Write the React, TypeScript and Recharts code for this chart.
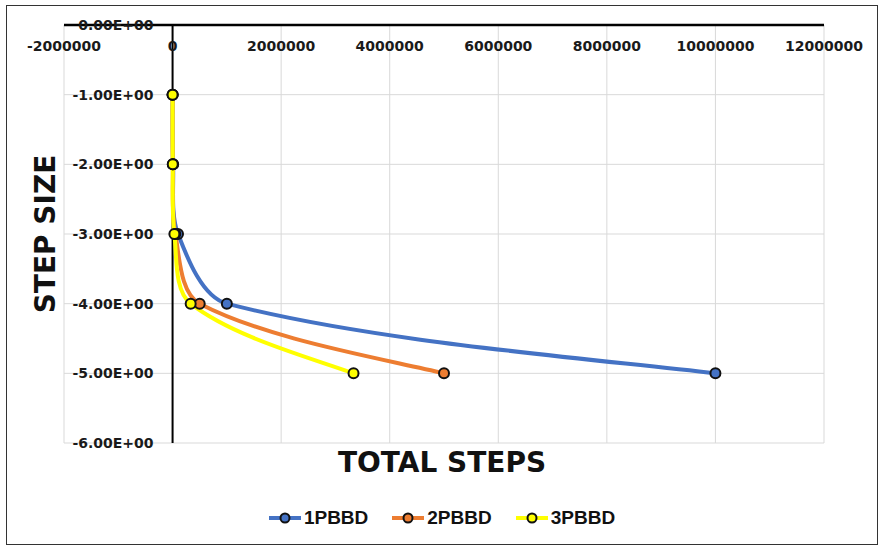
import React from 'react';
import { LineChart, Line, XAxis, YAxis, CartesianGrid, ReferenceLine } from 'recharts';

const STEP_SIZES = [-1, -2, -3, -4, -5];
const STEPS_1PBBD = [1000, 10000, 100000, 1000000, 10000000];
const STEPS_2PBBD = [500, 5000, 50000, 500000, 5000000];
const STEPS_3PBBD = [333, 3333, 33333, 333333, 3333333];

const X_TICKS = [-2000000, 0, 2000000, 4000000, 6000000, 8000000, 10000000, 12000000];
const Y_TICKS = [0, -1, -2, -3, -4, -5, -6];

const SERIES = [
  { name: '1PBBD', steps: STEPS_1PBBD, color: '#4472C4' },
  { name: '2PBBD', steps: STEPS_2PBBD, color: '#ED7D31' },
  { name: '3PBBD', steps: STEPS_3PBBD, color: '#FFFF00' },
];

const toRows = (steps: number[]) => steps.map((x, i) => ({ x, y: STEP_SIZES[i] }));

const W = 884;
const H = 549;
const MARGIN = { top: 24, right: 60, bottom: 106, left: 63 };
const PLOT_LEFT = 64;
const PLOT_W = 760;
// y labels sit just left of the x=0 axis line
const ZERO_PX = PLOT_LEFT + PLOT_W * (2 / 14);
const Y_LABEL_X = ZERO_PX - 19;

// Excel-like smoothed line: cubic bezier, unit tangents, arms = segment length * K
const K = 0.3;
const END_BEND = 0.25;
const unit = (v: number[]) => {
  const l = Math.hypot(v[0], v[1]);
  return l > 0 ? [v[0] / l, v[1] / l] : [0, 0];
};
const excelSmooth = (context: any) => {
  let pts: number[][] = [];
  return {
    areaStart() {},
    areaEnd() {},
    lineStart() { pts = []; },
    point(x: number, y: number) { pts.push([+x, +y]); },
    lineEnd() {
      const n = pts.length;
      if (!n) return;
      context.moveTo(pts[0][0], pts[0][1]);
      if (n === 1) return;
      const chords = [];
      for (let i = 0; i < n - 1; i++) chords.push(unit([pts[i + 1][0] - pts[i][0], pts[i + 1][1] - pts[i][1]]));
      const tans: number[][] = [];
      for (let i = 0; i < n; i++) {
        if (i > 0 && i < n - 1) {
          tans.push(unit([pts[i + 1][0] - pts[i - 1][0], pts[i + 1][1] - pts[i - 1][1]]));
        } else {
          tans.push([0, 0]);
        }
      }
      // end tangents bend slightly past the chord, away from the inner tangent
      if (n > 2) {
        const c0 = chords[0];
        tans[0] = unit([(1 + END_BEND) * c0[0] - END_BEND * tans[1][0], (1 + END_BEND) * c0[1] - END_BEND * tans[1][1]]);
        const cl = chords[n - 2];
        tans[n - 1] = unit([(1 + END_BEND) * cl[0] - END_BEND * tans[n - 2][0], (1 + END_BEND) * cl[1] - END_BEND * tans[n - 2][1]]);
      } else {
        tans[0] = chords[0];
        tans[1] = chords[0];
      }
      for (let i = 0; i < n - 1; i++) {
        const p1 = pts[i];
        const p2 = pts[i + 1];
        const arm = Math.hypot(p2[0] - p1[0], p2[1] - p1[1]) * K;
        context.bezierCurveTo(
          p1[0] + tans[i][0] * arm, p1[1] + tans[i][1] * arm,
          p2[0] - tans[i + 1][0] * arm, p2[1] - tans[i + 1][1] * arm,
          p2[0], p2[1],
        );
      }
    },
  };
};

const tickFont = { fontFamily: '"DejaVu Sans", sans-serif', fontWeight: 700, fontSize: 14, fill: '#1a1a1a' };

const XTick = (props: any) => (
  <text x={props.x} y={props.y + 26} textAnchor="middle" style={tickFont}>
    {props.payload.value}
  </text>
);

const YTick = (props: any) => (
  <text x={Y_LABEL_X} y={props.y + 5} textAnchor="end" style={tickFont}>
    {props.payload.value.toFixed(2) + 'E+00'}
  </text>
);

const LegendBox = () => (
  <div style={{ position: 'absolute', left: 0, top: 507, width: W, display: 'flex', justifyContent: 'center', gap: 24, fontFamily: '"Liberation Sans", Arial, sans-serif', fontWeight: 700, fontSize: 19, color: '#111' }}>
    {SERIES.map(s => (
      <div key={s.name} style={{ display: 'flex', alignItems: 'center' }}>
        <svg width={32} height={14} style={{ marginRight: 3 }}>
          <line x1={0} y1={7} x2={32} y2={7} stroke={s.color} strokeWidth={4} />
          <circle cx={16} cy={7} r={4.5} fill={s.color} stroke="#111" strokeWidth={2} />
        </svg>
        <span>{s.name}</span>
      </div>
    ))}
  </div>
);

const App: React.FC = () => {
  return (
    <div style={{ position: 'absolute', left: 0, top: 0, width: W, height: H, background: '#fff' }}>
      <div style={{ position: 'absolute', left: 6, top: 5, width: 872, height: 540, border: '1.5px solid #333', boxSizing: 'border-box' }} />
      <LineChart width={W} height={H} margin={MARGIN} style={{ position: 'absolute', left: 0, top: 0 }}>
        <CartesianGrid stroke="#d9d9d9" strokeWidth={1} />
        <XAxis
          dataKey="x"
          type="number"
          orientation="top"
          domain={[-2000000, 12000000]}
          ticks={X_TICKS}
          height={1}
          tickSize={0}
          tickMargin={0}
          tick={XTick}
          axisLine={{ stroke: '#000', strokeWidth: 2.5 }}
          allowDataOverflow
        />
        <YAxis
          dataKey="y"
          type="number"
          domain={[-6, 0]}
          ticks={Y_TICKS}
          width={1}
          tickSize={0}
          tickMargin={0}
          tick={YTick}
          axisLine={false}
          allowDataOverflow
        />
        <ReferenceLine x={0} stroke="#000" strokeWidth={2} />
        {SERIES.map(s => (
          <Line
            key={s.name}
            data={toRows(s.steps)}
            dataKey="y"
            name={s.name}
            type={excelSmooth as any}
            stroke={s.color}
            strokeWidth={4}
            dot={{ r: 5, fill: s.color, stroke: '#111', strokeWidth: 2 }}
            activeDot={false}
            isAnimationActive={false}
          />
        ))}
      </LineChart>
      <div style={{ position: 'absolute', left: 0, width: W, top: 446, textAlign: 'center', fontFamily: '"DejaVu Sans", sans-serif', fontWeight: 700, fontSize: 28, color: '#111' }}>
        TOTAL STEPS
      </div>
      <div style={{ position: 'absolute', left: 45, top: 234, transform: 'translate(-50%, -50%) rotate(-90deg)', whiteSpace: 'nowrap', fontFamily: '"DejaVu Sans", sans-serif', fontWeight: 700, fontSize: 28, color: '#111' }}>
        STEP SIZE
      </div>
      <LegendBox />
    </div>
  );
};

export default App;
